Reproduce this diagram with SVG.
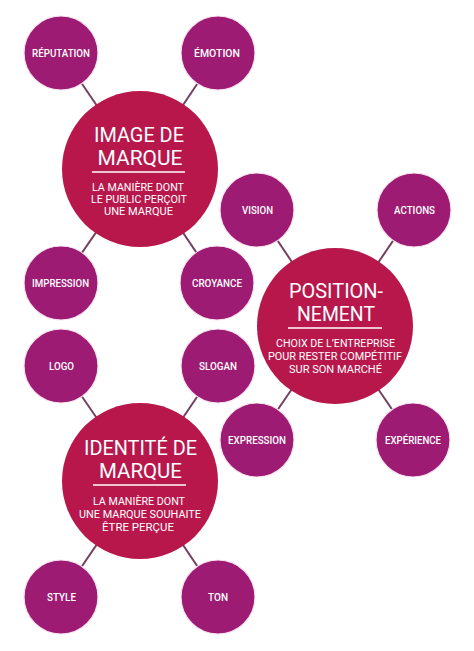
<svg xmlns="http://www.w3.org/2000/svg" width="474" height="651" viewBox="0 0 474 651">
<style>
.main{fill:#b8174c;}
.sub{fill:#9d1b72;stroke:#f6e3ee;stroke-width:1.2;}
.lk{stroke:#74405f;stroke-width:2;fill:none;}
text{font-family:Roboto,"Liberation Sans",sans-serif;fill:#ffffff;text-anchor:middle;}
.t{font-size:20.5px;font-weight:400;}
.s{font-size:11px;}
.l{font-size:10px;font-weight:500;}
.div{stroke:#ffffff;stroke-width:1.5;}
</style>
<rect width="474" height="651" fill="#ffffff"/>
<g id="connectors">
<line class="lk" x1="61" y1="53" x2="140" y2="169"/>
<line class="lk" x1="218" y1="53" x2="140" y2="169"/>
<line class="lk" x1="61" y1="283" x2="140" y2="169"/>
<line class="lk" x1="217" y1="283" x2="140" y2="169"/>
<line class="lk" x1="257" y1="210" x2="335" y2="326"/>
<line class="lk" x1="414" y1="210" x2="335" y2="326"/>
<line class="lk" x1="257" y1="440" x2="335" y2="326"/>
<line class="lk" x1="413" y1="440" x2="335" y2="326"/>
<line class="lk" x1="61" y1="366" x2="140" y2="481"/>
<line class="lk" x1="218" y1="366" x2="140" y2="481"/>
<line class="lk" x1="61" y1="597" x2="140" y2="481"/>
<line class="lk" x1="218" y1="597" x2="140" y2="481"/>
</g>
<g id="image-de-marque">
<circle class="main" cx="140" cy="169" r="78"/>
<text class="t"><tspan x="139" y="142" textLength="90" lengthAdjust="spacingAndGlyphs">IMAGE DE</tspan><tspan x="140" y="164.5" textLength="85" lengthAdjust="spacingAndGlyphs">MARQUE</tspan></text>
<line class="div" x1="92" y1="172" x2="185" y2="172"/>
<text class="s"><tspan x="138" y="191" textLength="92" lengthAdjust="spacingAndGlyphs">LA MANIÈRE DONT</tspan><tspan x="139" y="203.3" textLength="96" lengthAdjust="spacingAndGlyphs">LE PUBLIC PERÇOIT</tspan><tspan x="138.5" y="215.3" textLength="69" lengthAdjust="spacingAndGlyphs">UNE MARQUE</tspan></text>
</g>
<g id="positionnement">
<circle class="main" cx="335" cy="326" r="78"/>
<text class="t"><tspan x="336" y="298" textLength="94" lengthAdjust="spacingAndGlyphs">POSITION-</tspan><tspan x="336" y="320.5" textLength="78" lengthAdjust="spacingAndGlyphs">NEMENT</tspan></text>
<line class="div" x1="288" y1="328" x2="382" y2="328"/>
<text class="s"><tspan x="335.5" y="347" textLength="119" lengthAdjust="spacingAndGlyphs">CHOIX DE L’ENTREPRISE</tspan><tspan x="335" y="360" textLength="134" lengthAdjust="spacingAndGlyphs">POUR RESTER COMPÉTITIF</tspan><tspan x="335.5" y="373" textLength="93" lengthAdjust="spacingAndGlyphs">SUR SON MARCHÉ</tspan></text>
</g>
<g id="identite-de-marque">
<circle class="main" cx="140" cy="481" r="78"/>
<text class="t"><tspan x="140.5" y="455" textLength="113" lengthAdjust="spacingAndGlyphs">IDENTITÉ DE</tspan><tspan x="140.5" y="477.5" textLength="83" lengthAdjust="spacingAndGlyphs">MARQUE</tspan></text>
<line class="div" x1="93" y1="485" x2="186" y2="485"/>
<text class="s"><tspan x="139" y="505" textLength="92" lengthAdjust="spacingAndGlyphs">LA MANIÈRE DONT</tspan><tspan x="140" y="518" textLength="122" lengthAdjust="spacingAndGlyphs">UNE MARQUE SOUHAITE</tspan><tspan x="138" y="531" textLength="72" lengthAdjust="spacingAndGlyphs">ÊTRE PERÇUE</tspan></text>
</g>
<g id="reputation"><circle class="sub" cx="61" cy="53" r="37"/><text class="l" x="61" y="57" textLength="58" lengthAdjust="spacingAndGlyphs">RÉPUTATION</text></g>
<g id="emotion"><circle class="sub" cx="218" cy="53" r="37"/><text class="l" x="217" y="57" textLength="46" lengthAdjust="spacingAndGlyphs">ÉMOTION</text></g>
<g id="impression"><circle class="sub" cx="61" cy="283" r="37"/><text class="l" x="60.5" y="287" textLength="57" lengthAdjust="spacingAndGlyphs">IMPRESSION</text></g>
<g id="croyance"><circle class="sub" cx="217" cy="283" r="37"/><text class="l" x="217" y="287" textLength="50" lengthAdjust="spacingAndGlyphs">CROYANCE</text></g>
<g id="vision"><circle class="sub" cx="257" cy="210" r="37"/><text class="l" x="257.5" y="214" textLength="31" lengthAdjust="spacingAndGlyphs">VISION</text></g>
<g id="actions"><circle class="sub" cx="414" cy="210" r="37"/><text class="l" x="414.5" y="214" textLength="41" lengthAdjust="spacingAndGlyphs">ACTIONS</text></g>
<g id="expression"><circle class="sub" cx="257" cy="440" r="37"/><text class="l" x="257" y="444" textLength="58" lengthAdjust="spacingAndGlyphs">EXPRESSION</text></g>
<g id="experience"><circle class="sub" cx="413" cy="440" r="37"/><text class="l" x="413" y="444" textLength="56" lengthAdjust="spacingAndGlyphs">EXPÉRIENCE</text></g>
<g id="logo"><circle class="sub" cx="61" cy="366" r="37"/><text class="l" x="61.5" y="370" textLength="25" lengthAdjust="spacingAndGlyphs">LOGO</text></g>
<g id="slogan"><circle class="sub" cx="218" cy="366" r="37"/><text class="l" x="218" y="370" textLength="38" lengthAdjust="spacingAndGlyphs">SLOGAN</text></g>
<g id="style"><circle class="sub" cx="61" cy="597" r="37"/><text class="l" x="61.5" y="601" textLength="29" lengthAdjust="spacingAndGlyphs">STYLE</text></g>
<g id="ton"><circle class="sub" cx="218" cy="597" r="37"/><text class="l" x="218" y="601" textLength="20" lengthAdjust="spacingAndGlyphs">TON</text></g>
</svg>
